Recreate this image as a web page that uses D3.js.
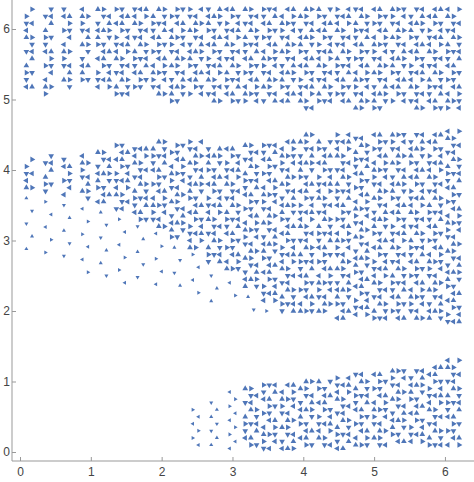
<!DOCTYPE html>
<html><head><meta charset="utf-8">
<script src="https://cdn.jsdelivr.net/npm/d3@7"></script>
<style>body{margin:0;background:#fff}text{font-family:"Liberation Sans",Arial,sans-serif}</style>
</head><body><svg id="c" width="474" height="482"></svg>
<script>
// column centres (x) and the band extents
const colX = [0.13,0.4,0.66,0.92,1.18,1.44,1.7,1.96,2.22,2.48,2.74,3.0,3.26,3.52,3.78,4.04,4.3,4.56,4.82,5.08,5.34,5.6,5.86,6.12];
const topLo = [5.15,5.05,5.15,5.2,5.15,5.0,5.1,5.05,4.95,5.0,4.95,4.95,4.9,4.9,4.95,4.85,4.9,4.9,4.85,4.85,4.9,4.85,4.85,4.85];
const topHi = [6.28,6.28,6.28,6.28,6.28,6.28,6.28,6.28,6.28,6.28,6.28,6.28,6.28,6.28,6.28,6.28,6.28,6.28,6.28,6.28,6.28,6.28,6.28,6.28];
const midHi = [4.15,4.2,4.15,4.2,4.25,4.35,4.3,4.4,4.35,4.4,4.3,4.3,4.35,4.35,4.4,4.5,4.4,4.5,4.45,4.5,4.5,4.5,4.5,4.55];
const midDense = [3.7,3.65,3.6,3.55,3.5,3.4,3.3,3.2,3.0,2.9,2.6,2.5,2.3,2.1,2.0,2.0,1.95,1.9,1.9,1.85,1.85,1.85,1.85,1.8];
const midLo = [2.8,2.7,2.6,2.5,2.45,2.25,2.3,2.25,2.2,2.1,2.1,2.05,2.0,2.0,1.95,2.0,1.95,1.9,1.9,1.85,1.85,1.85,1.85,1.8];
const lowHi = [null,null,null,null,null,null,null,null,null,0.6,0.7,0.85,0.9,0.95,0.95,1.0,1.0,1.05,1.1,1.1,1.15,1.15,1.2,1.3];
const xTicks = [0,1,2,3,4,5,6];
const yTicks = [0,1,2,3,4,5,6];

const svg = d3.select("#c");
const x = d3.scaleLinear().domain([0, 2*Math.PI]).range([20, 465]);
const y = d3.scaleLinear().domain([0, 6]).range([452, 29]);
const blue = "#4f76b8";

// build glyph positions inside each band of each column
const pts = [];
function fill(i, lo, hi, subs, step, sparse) {
  for (let v = hi, k = 0; v >= lo; v -= step, k++) {
    for (let s = 0; s < subs; s++) {
      if (sparse && (k + s) % 2) continue;
      if (!sparse && (k * 3 + s * 5 + i) % 7 < 2) continue; // gaps in the texture
      pts.push({x: colX[i] + (s - (subs - 1) / 2) * 0.08, y: v, r: (k + s + i) % 4, small: sparse});
    }
  }
}
colX.forEach((cx, i) => {
  const w = i < 4 ? 2 : 3;
  fill(i, topLo[i], topHi[i], w, 0.1, false);
  fill(i, midDense[i], midHi[i], w, 0.1, false);
  if (midDense[i] > midLo[i]) fill(i, midLo[i], midDense[i] - 0.1, 2, 0.18, true);
  if (lowHi[i] != null) fill(i, 0.05, lowHi[i], i < 12 ? 2 : 3, 0.1, i < 12);
});

const tri = d3.symbol().type(d3.symbolTriangle);
svg.append("g").selectAll("path").data(pts).join("path")
  .attr("d", d => tri.size(d.small ? 7 : 14)())
  .attr("transform", d => `translate(${x(d.x)},${y(d.y)}) rotate(${d.r * 90})`)
  .attr("fill", blue);

const ax = svg.append("g").attr("transform", "translate(0,461)")
  .call(d3.axisBottom(x).tickValues(xTicks).tickFormat(d3.format("d")).tickSizeInner(-4).tickSizeOuter(0).tickPadding(6));
const ay = svg.append("g").attr("transform", "translate(12,0)")
  .call(d3.axisLeft(y).tickValues(yTicks).tickFormat(d3.format("d")).tickSizeInner(-4).tickSizeOuter(0).tickPadding(2));
[ax, ay].forEach(a => {
  a.select(".domain").attr("stroke", "#999");
  a.selectAll("line").attr("stroke", "#999");
  a.selectAll("text").attr("fill", "#444").attr("font-size", 12);
});
ax.select(".domain").attr("d", "M12,0H474");
ay.select(".domain").attr("d", "M0,0V461");
</script></body></html>
